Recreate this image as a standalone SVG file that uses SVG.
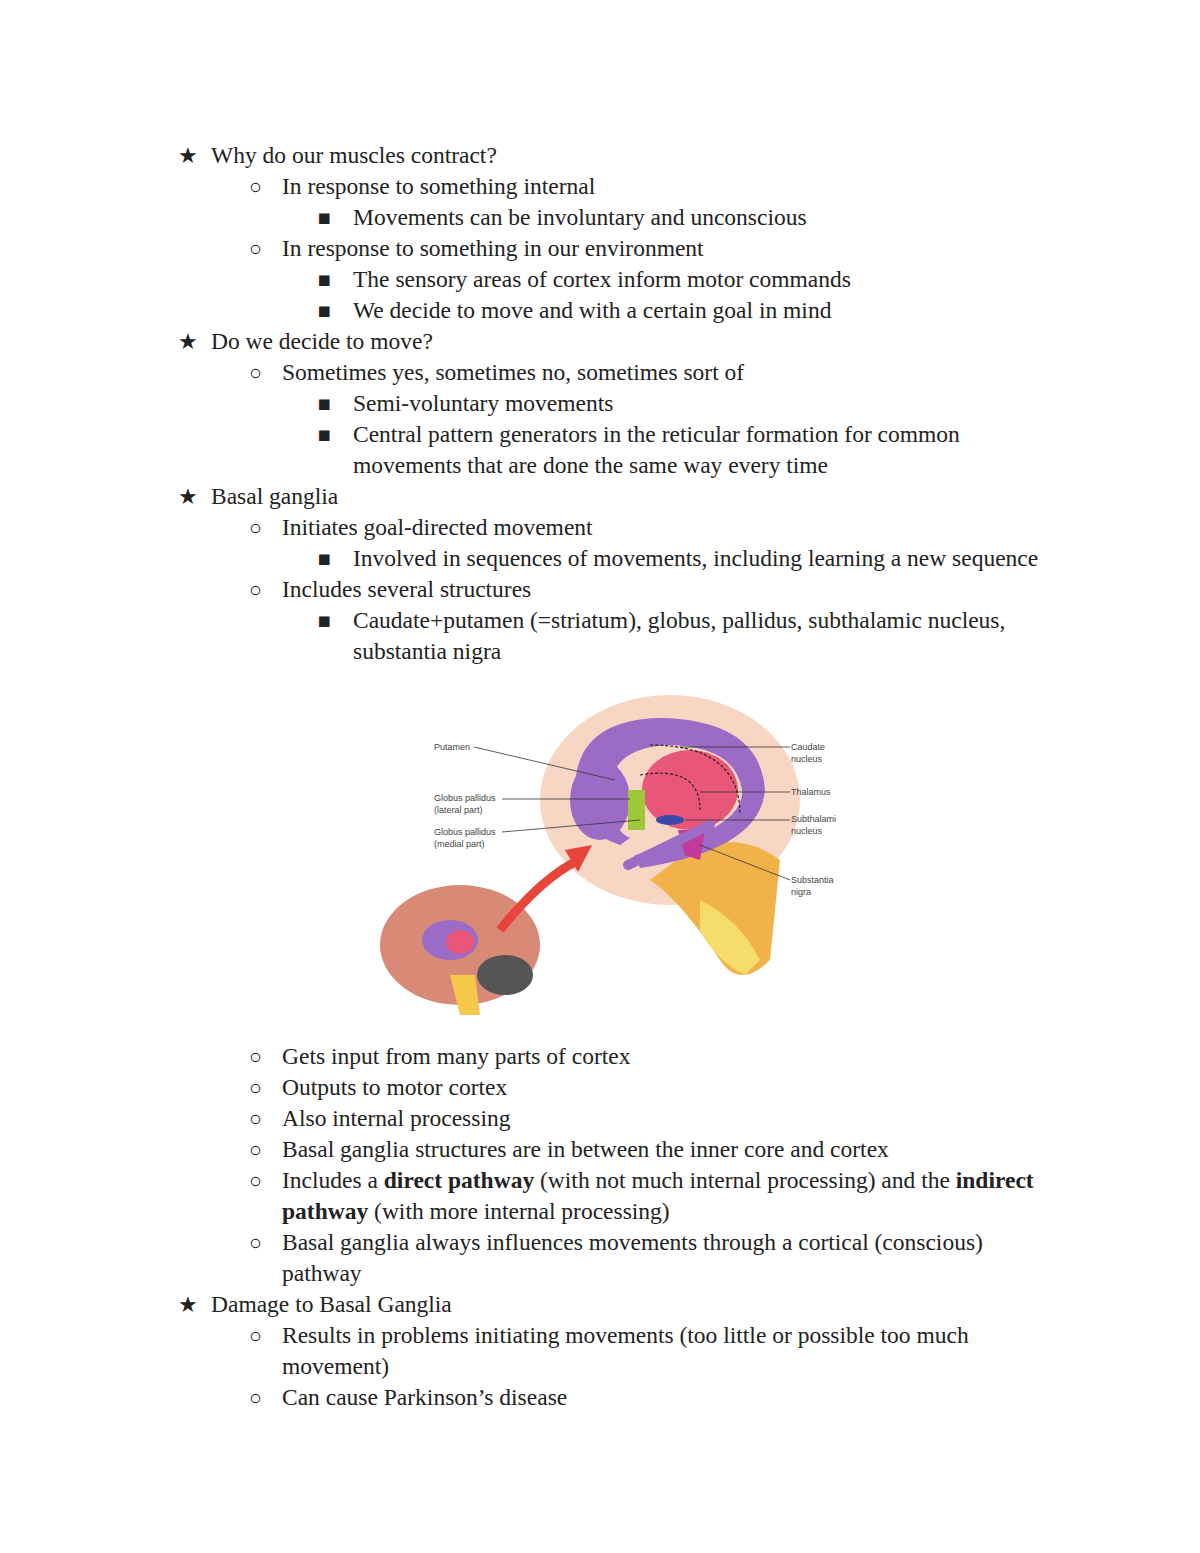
<svg xmlns="http://www.w3.org/2000/svg" width="1200" height="1553" viewBox="0 0 1200 1553">
<style>
text{font-family:"Liberation Serif",serif;font-size:23.5px;fill:#222}
.s{font-size:22px}
.b{font-size:21.5px}
.c{font-family:"Liberation Sans",sans-serif;font-size:9px;fill:#444}
.l{stroke:#333;stroke-width:0.8;fill:none}
.d{stroke:#222;stroke-width:1.2;fill:none;stroke-dasharray:3 2}
</style>
<rect width="1200" height="1553" fill="#fff"/>
<g id="text1">
<text x="178" y="163" class="s">★</text><text x="211" y="163">Why do our muscles contract?</text>
<text x="249" y="194" class="b">○</text><text x="282" y="194">In response to something internal</text>
<text x="318" y="225" class="b">■</text><text x="353" y="225">Movements can be involuntary and unconscious</text>
<text x="249" y="256" class="b">○</text><text x="282" y="256">In response to something in our environment</text>
<text x="318" y="287" class="b">■</text><text x="353" y="287">The sensory areas of cortex inform motor commands</text>
<text x="318" y="318" class="b">■</text><text x="353" y="318">We decide to move and with a certain goal in mind</text>
<text x="178" y="349" class="s">★</text><text x="211" y="349">Do we decide to move?</text>
<text x="249" y="380" class="b">○</text><text x="282" y="380">Sometimes yes, sometimes no, sometimes sort of</text>
<text x="318" y="411" class="b">■</text><text x="353" y="411">Semi-voluntary movements</text>
<text x="318" y="442" class="b">■</text><text x="353" y="442">Central pattern generators in the reticular formation for common</text>
<text x="353" y="473">movements that are done the same way every time</text>
<text x="178" y="504" class="s">★</text><text x="211" y="504">Basal ganglia</text>
<text x="249" y="535" class="b">○</text><text x="282" y="535">Initiates goal-directed movement</text>
<text x="318" y="566" class="b">■</text><text x="353" y="566">Involved in sequences of movements, including learning a new sequence</text>
<text x="249" y="597" class="b">○</text><text x="282" y="597">Includes several structures</text>
<text x="318" y="628" class="b">■</text><text x="353" y="628">Caudate+putamen (=striatum), globus, pallidus, subthalamic nucleus,</text>
<text x="353" y="659">substantia nigra</text>
</g>
<g id="illustration">
<ellipse cx="670" cy="800" rx="130" ry="105" fill="#f7d6c4"/>
<path d="M690 850 Q740 830 780 860 L770 960 Q740 990 720 960 Q680 900 650 880 Z" fill="#f2b24a"/>
<path d="M700 900 Q740 920 760 960 L745 975 Q715 960 700 930 Z" fill="#f6dc6a"/>
<path d="M575 790 Q575 720 660 718 Q760 720 765 790 Q760 850 640 868 L635 855 Q745 830 742 790 Q735 745 665 745 Q605 750 610 800 Q612 830 630 838 L620 845 Q575 830 575 790 Z" fill="#9b6bc6"/>
<ellipse cx="600" cy="800" rx="30" ry="40" fill="#9b6bc6"/>
<ellipse cx="690" cy="790" rx="48" ry="40" fill="#e8577a"/>
<rect x="628" y="790" width="17" height="40" fill="#9cc83a"/>
<ellipse cx="670" cy="820" rx="14" ry="5" fill="#3a48a8"/>
<path d="M678 830 L705 830 L700 860 L685 855 Z" fill="#c33a9a"/>
<path d="M628 865 L710 825" stroke="#9b6bc6" stroke-width="10" stroke-linecap="round"/>
<path d="M640 775 Q700 765 700 810 M650 745 Q740 745 740 815" class="d"/>
<ellipse cx="460" cy="945" rx="80" ry="60" fill="#d98a76"/>
<ellipse cx="505" cy="975" rx="28" ry="20" fill="#555"/>
<path d="M450 975 L475 975 L480 1015 L460 1015 Z" fill="#f6c94a"/>
<ellipse cx="450" cy="940" rx="28" ry="20" fill="#9b6bc6"/>
<ellipse cx="460" cy="942" rx="14" ry="12" fill="#e8577a"/>
<path d="M500 930 Q540 880 575 862" stroke="#e8453a" stroke-width="9" fill="none"/>
<path d="M565 850 L592 845 L578 872 Z" fill="#e8453a"/>
<text class="c" x="434" y="750">Putamen</text>
<text class="c" x="434" y="801">Globus pallidus</text><text class="c" x="434" y="813">(lateral part)</text>
<text class="c" x="434" y="835">Globus pallidus</text><text class="c" x="434" y="847">(medial part)</text>
<text class="c" x="791" y="750">Caudate</text><text class="c" x="791" y="762">nucleus</text>
<text class="c" x="791" y="795">Thalamus</text>
<text class="c" x="791" y="822">Subthalami</text><text class="c" x="791" y="834">nucleus</text>
<text class="c" x="791" y="883">Substantia</text><text class="c" x="791" y="895">nigra</text>
<path class="l" d="M474 747 L615 780 M502 799 L630 799 M502 832 L640 820 M680 747 L790 747 M700 792 L790 792 M685 820 L790 820 M700 845 L790 880"/>
</g>
<g id="text2">
<text x="249" y="1064" class="b">○</text><text x="282" y="1064">Gets input from many parts of cortex</text>
<text x="249" y="1095" class="b">○</text><text x="282" y="1095">Outputs to motor cortex</text>
<text x="249" y="1126" class="b">○</text><text x="282" y="1126">Also internal processing</text>
<text x="249" y="1157" class="b">○</text><text x="282" y="1157">Basal ganglia structures are in between the inner core and cortex</text>
<text x="249" y="1188" class="b">○</text><text x="282" y="1188">Includes a <tspan font-weight="bold">direct pathway</tspan> (with not much internal processing) and the <tspan font-weight="bold">indirect</tspan></text>
<text x="282" y="1219"><tspan font-weight="bold">pathway</tspan> (with more internal processing)</text>
<text x="249" y="1250" class="b">○</text><text x="282" y="1250">Basal ganglia always influences movements through a cortical (conscious)</text>
<text x="282" y="1281">pathway</text>
<text x="178" y="1312" class="s">★</text><text x="211" y="1312">Damage to Basal Ganglia</text>
<text x="249" y="1343" class="b">○</text><text x="282" y="1343">Results in problems initiating movements (too little or possible too much</text>
<text x="282" y="1374">movement)</text>
<text x="249" y="1405" class="b">○</text><text x="282" y="1405">Can cause Parkinson’s disease</text>
</g>
</svg>
